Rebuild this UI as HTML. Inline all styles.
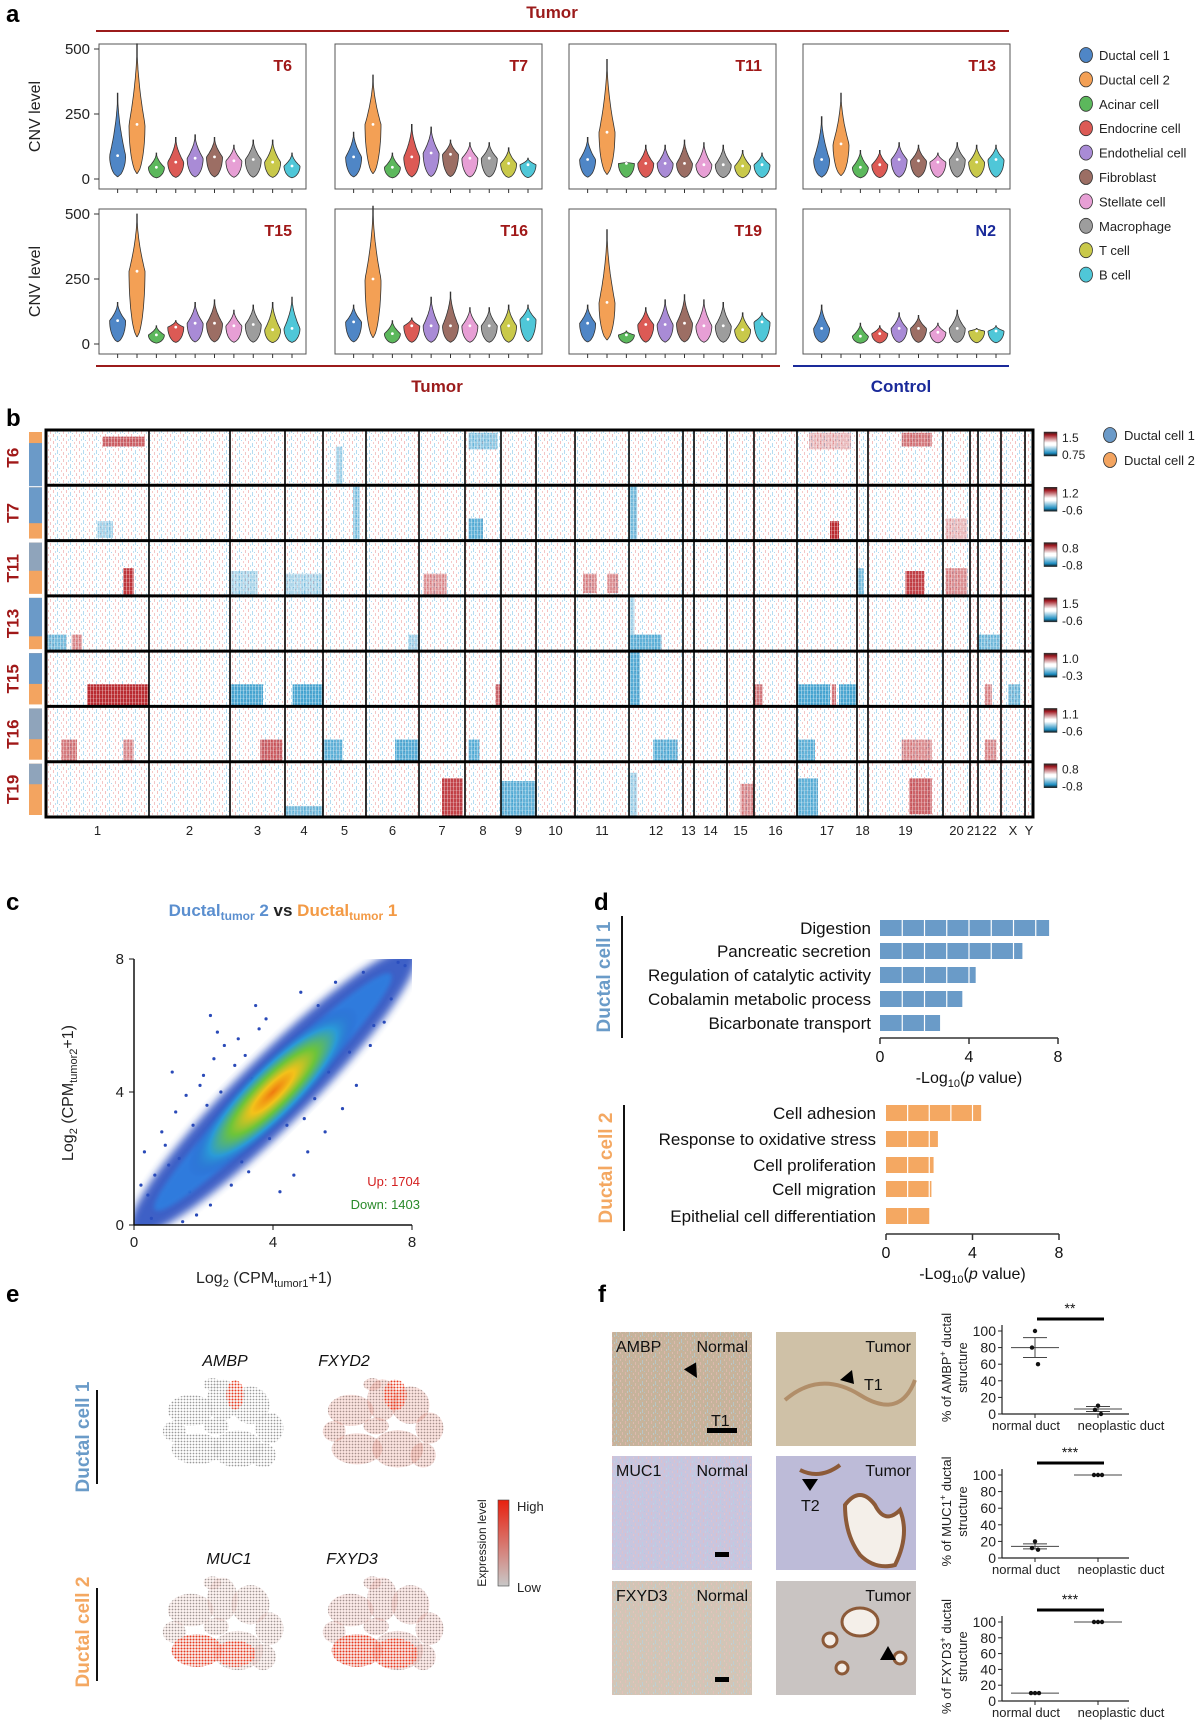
<!DOCTYPE html>
<html><head><meta charset="utf-8"><style>
html,body{margin:0;padding:0;background:#fff;}
svg{display:block;font-family:"Liberation Sans",Arial,sans-serif;}
</style></head><body>
<svg id="fig" width="1200" height="1725" viewBox="0 0 1200 1725" xmlns="http://www.w3.org/2000/svg">
<defs>
<pattern id="noise" width="13" height="7" patternUnits="userSpaceOnUse">
<rect x="1" y="0" width="1" height="3" fill="#f3b6b6"/><rect x="5" y="2" width="1" height="4" fill="#a8d6ee"/><rect x="9" y="1" width="1" height="2" fill="#f5c2c2"/><rect x="3" y="5" width="1" height="2" fill="#b5dcf0"/><rect x="11" y="4" width="1" height="3" fill="#f1bcbc"/><rect x="7" y="6" width="1" height="1" fill="#9fd0ec"/>
</pattern>
<pattern id="stripe" width="3" height="4" patternUnits="userSpaceOnUse"><rect width="1" height="4" fill="#fff" opacity="0.35"/><rect y="2" width="3" height="1" fill="#fff" opacity="0.2"/></pattern>
<pattern id="dots" width="3" height="3" patternUnits="userSpaceOnUse"><circle cx="1.5" cy="1.5" r="0.9" fill="#9a9a9a"/></pattern>
<pattern id="rdots" width="3" height="3" patternUnits="userSpaceOnUse"><circle cx="1.5" cy="1.5" r="1" fill="#e8391f"/></pattern>
<linearGradient id="cbg" x1="0" y1="0" x2="0" y2="1"><stop offset="0" stop-color="#222"/><stop offset="0.12" stop-color="#a01820"/><stop offset="0.45" stop-color="#fff"/><stop offset="0.55" stop-color="#fff"/><stop offset="0.88" stop-color="#1b8cc0"/><stop offset="1" stop-color="#111"/></linearGradient>
<linearGradient id="expg" x1="0" y1="0" x2="0" y2="1"><stop offset="0" stop-color="#e8200f"/><stop offset="1" stop-color="#c8c8c8"/></linearGradient>
<radialGradient id="dens" cx="0.5" cy="0.5" r="0.5"><stop offset="0" stop-color="#f07a10"/><stop offset="0.25" stop-color="#f3c21a"/><stop offset="0.5" stop-color="#6cc43a"/><stop offset="0.75" stop-color="#2a9ad8"/><stop offset="1" stop-color="#2a5ac8" stop-opacity="0"/></radialGradient>
<filter id="blur2"><feGaussianBlur stdDeviation="2"/></filter>
<filter id="blur4"><feGaussianBlur stdDeviation="4"/></filter>
</defs>
<g id="root"></g>
</svg>
<script>
// ===== Panel a data =====
const cellTypes=['Ductal cell 1','Ductal cell 2','Acinar cell','Endocrine cell','Endothelial cell','Fibroblast','Stellate cell','Macrophage','T cell','B cell'];
const cellColors=['#4f86c6','#f3a055','#5cb85c','#dc5a55','#a98bd6','#9c6e64','#e79fd5','#9d9d9d','#c9c94a','#4fc7d8'];
const samples=['T6','T7','T11','T13','T15','T16','T19','N2'];
const medT6=[90,210,45,65,80,85,70,75,65,50], hiT6=[330,520,100,160,170,160,130,150,150,100];
const medT7=[85,210,45,85,100,95,80,80,60,55], hiT7=[180,400,100,210,200,150,140,140,120,80];
const medT11=[75,180,60,60,60,60,55,55,50,55], hiT11=[160,460,65,130,130,150,140,130,110,100];
const medT13=[75,135,45,55,75,70,65,75,65,75], hiT13=[240,330,110,110,140,130,100,140,130,130];
const medT15=[90,280,35,65,80,80,70,75,55,60], hiT15=[160,500,70,90,160,170,130,150,160,180];
const medT16=[85,250,40,70,70,70,70,70,70,95], hiT16=[150,530,90,100,180,200,140,140,150,150];
const medT19=[80,160,35,75,75,80,70,70,55,85], hiT19=[150,440,50,140,170,190,170,160,120,120];
const medN2=[60,null,30,40,60,60,45,60,50,50], hiN2=[150,null,80,70,120,110,80,130,60,70];
const meds=[medT6,medT7,medT11,medT13,medT15,medT16,medT19,medN2];
const his=[hiT6,hiT7,hiT11,hiT13,hiT15,hiT16,hiT19,hiN2];
const cnvTicks=[0,250,500];
// ===== Panel b data =====
const chroms=['1','2','3','4','5','6','7','8','9','10','11','12','13','14','15','16','17','18','19','20','21','22','X','Y'];
const chromWeight=[103,81,55,38,43,53,46,36,35,39,54,54,11,33,27,43,60,11,75,27,8,23,24,8];
const hmSamples=['T6','T7','T11','T13','T15','T16','T19'];
const cbTop=['1.5','1.2','0.8','1.5','1.0','1.1','0.8'];
const cbBot=['0.75','-0.6','-0.8','-0.6','-0.3','-0.6','-0.8'];
const ductal2Start=[0.0,0.7,0.55,0.75,0.6,0.6,0.4];
// hotspots: [row, chrom, x0, x1, y0, y1, value]
const hotspots=[
[0,0,.55,.96,.12,.3,.7],[0,18,.45,.85,.05,.3,.6],[0,7,.1,.9,.05,.35,-.5],[0,16,.2,.9,.05,.35,.3],[0,4,.3,.45,.3,1,-.4],
[1,16,.55,.7,.65,1,.95],[1,7,.1,.5,.6,1,-.7],[1,11,0,.15,0,1,-.6],[1,4,.7,.85,0,1,-.5],[1,0,.5,.65,.65,.95,-.4],[1,19,.1,.9,.6,1,.3],
[2,0,.75,.85,.5,1,.9],[2,18,.5,.75,.55,1,.85],[2,10,.15,.4,.6,.95,.5],[2,10,.6,.8,.6,.95,.5],[2,19,.1,.9,.5,1,.5],[2,17,0,.6,.5,1,-.6],[2,6,.1,.6,.6,1,.45],[2,2,0,.5,.55,1,-.35],[2,3,0,1,.6,1,-.35],
[3,0,0,.2,.7,.98,-.6],[3,0,.25,.35,.7,.98,.5],[3,11,0,.6,.7,.98,-.7],[3,21,0,1,.7,.98,-.6],[3,11,0,.1,0,.7,-.4],[3,5,.8,1,.7,.98,-.4],
[4,0,.4,1,.6,.98,.95],[4,2,0,.6,.6,.98,-.8],[4,3,.2,1,.6,.98,-.8],[4,7,.85,1,.6,.98,.7],[4,11,0,.2,0,.98,-.75],[4,15,0,.2,.6,.98,.6],[4,16,0,.55,.6,.98,-.8],[4,16,.7,1,.6,.98,-.8],[4,16,.58,.65,.6,.98,.6],[4,21,.3,.6,.6,.98,.5],[4,22,.3,.8,.6,.98,-.6],
[5,0,.15,.3,.6,.98,.6],[5,0,.75,.85,.6,.98,.5],[5,2,.55,.95,.6,.98,.7],[5,4,0,.45,.6,.98,-.7],[5,5,.55,1,.6,.98,-.75],[5,7,.1,.4,.6,.98,-.7],[5,11,.45,.9,.6,.98,-.7],[5,16,0,.3,.6,.98,-.7],[5,18,.45,.85,.6,.98,.5],[5,21,.3,.8,.6,.98,.5],
[6,6,.5,.95,.3,.98,.85],[6,8,0,1,.35,.98,-.7],[6,16,0,.35,.3,.98,-.7],[6,18,.55,.85,.3,.95,.7],[6,3,0,1,.8,.98,-.6],[6,14,.5,1,.4,.98,.5],[6,11,0,.15,.2,.98,-.4]
];
// ===== Panel c data =====
const scatTicks=[0,4,8];
const outX=[0.3,0.8,1.2,1.5,2.0,2.3,2.6,3.0,1.0,1.8,2.2,2.8,3.3,0.5,1.4,5.5,6.0,6.4,5.0,4.6,4.2,3.8,6.8,7.2,5.8,6.6,3.5,4.8,2.4,1.1,7.6,7.8,0.6,0.9,1.3,1.7,2.1,2.5,2.9,3.2,3.6,1.6,2.7,3.9,4.4,5.2,5.6,6.2,0.4,0.2,1.9,3.1,4.9,5.3,6.9,7.4,2.2,3.4];
const outY=[2.2,2.8,3.4,3.9,4.5,5.0,5.4,5.6,1.8,0.3,0.6,1.2,1.6,0.2,0.1,2.8,3.5,4.2,2.2,1.5,1.0,6.2,5.4,6.1,7.3,7.6,6.6,7.0,5.8,4.6,7.9,7.8,1.5,2.4,2.0,3.0,3.6,4.0,4.8,5.1,5.9,1.0,2.0,2.6,3.0,3.8,4.6,5.2,0.9,1.2,4.2,1.9,3.2,6.6,6.0,6.8,6.3,4.4];
const upCount=1704, downCount=1403;
// ===== Panel d data =====
const terms1=['Digestion','Pancreatic secretion','Regulation of catalytic activity','Cobalamin metabolic process','Bicarbonate transport'];
const vals1=[7.6,6.4,4.3,3.7,2.7];
const terms2=['Cell adhesion','Response to oxidative stress','Cell proliferation','Cell migration','Epithelial cell differentiation'];
const vals2=[4.4,2.4,2.2,2.1,2.0];
const barTicks=[0,4,8];
// ===== Panel f data =====
const fGenes=['AMBP','MUC1','FXYD3'];
const normVals=[[100,80,60],[20,12,10],[10,10,10]];
const neoVals=[[10,5,0],[100,100,100],[100,100,100]];
const normMean=[80,14,10], normErr=[12,3,0];
const neoMean=[6,100,100], neoErr=[3,0,0];
const sigStars=['**','***','***'];
const fTicks=[0,20,40,60,80,100];

const NS='http://www.w3.org/2000/svg';
const root=document.getElementById('root');
function mk(tag,attrs,parent){const e=document.createElementNS(NS,tag);for(const k in attrs)e.setAttribute(k,attrs[k]);(parent||root).appendChild(e);return e;}
function txt(s,x,y,size,attrs,parent){const a=Object.assign({x:x,y:y,'font-size':size},attrs||{});const t=mk('text',a,parent);t.textContent=s;return t;}
function plabel(s,x,y){const t=txt(s,x,y,24,{'font-weight':'bold'});}

// ================= PANEL A =================
plabel('a',6,22);
{
const g=mk('g',{});


let t=txt('Tumor',552,18,17,{'text-anchor':'middle','font-weight':'bold',fill:'#9b1b1b'},g);

mk('line',{x1:96,y1:31,x2:1009,y2:31,stroke:'#9b1b1b','stroke-width':2},g);
const boxX=[99,335,569,803], boxW=207;
const rowTop=[44,209], rowH=145, rowBase=[179,344], row500=[49,214];
for(let s=0;s<8;s++){
  const r=Math.floor(s/4), c=s%4;
  const bx=boxX[c], by=rowTop[r];
  const pg=mk('g',{},g);
  
  
  mk('rect',{x:bx,y:by,width:boxW,height:rowH,fill:'none',stroke:'#555','stroke-width':1},pg);
  const yv=v=>rowBase[r]-v*(rowBase[r]-row500[r])/500;
  if(c===0){
    cnvTicks.forEach(v=>{mk('line',{x1:bx-5,x2:bx,y1:yv(v),y2:yv(v),stroke:'#333'},pg);
      txt(String(v),bx-9,yv(v)+5,15,{'text-anchor':'end',fill:'#222'},pg);});
    const yl=txt('CNV level',40,(rowTop[r]+rowH/2),16,{'text-anchor':'middle',transform:'rotate(-90 40 '+(rowTop[r]+rowH/2)+')',fill:'#222'},pg);
    
  }
  const lab=txt(samples[s],bx+boxW-14,by+27,16,{'text-anchor':'end','font-weight':'bold',fill:s===7?'#1a2a9a':'#a01818'},pg);
  
  for(let i=0;i<10;i++){
    const cx=bx+boxW*(0.09+i*0.0936);
    mk('line',{x1:cx,x2:cx,y1:by+rowH,y2:by+rowH+4,stroke:'#333'},pg);
    const med=meds[s][i], hi=his[s][i];
    if(med===null) continue;
    const lo=Math.max(0,med*0.1);
    const W=8;
    let left=[],right=[];
    const N=30;
    for(let k=0;k<=N;k++){
      const v=lo+(hi-lo)*k/N;
      let f;
      if(v<med){const u=(med-v)/(med-lo+1e-6);f=Math.pow(Math.max(0,1-u*u),0.6);}
      else{const u=(v-med)/(hi-med+1e-6);f=Math.pow(1-u,1.8);}
      const w=W*Math.max(f,0.04);
      left.push([cx-w,yv(v)]);right.push([cx+w,yv(v)]);
    }
    const pts=left.concat(right.reverse());
    const p=mk('path',{d:'M'+pts.map(q=>q[0].toFixed(1)+','+q[1].toFixed(1)).join('L')+'Z',fill:cellColors[i],stroke:'#333','stroke-width':0.8},pg);
    
    
    mk('circle',{cx:cx,cy:yv(med),r:1.4,fill:'#fff'},pg);
  }
}
for(let i=0;i<10;i++){
  const ly=55+24.4*i;
  const le=mk('g',{},g);
  
  
  mk('ellipse',{cx:1086,cy:ly,rx:6.5,ry:7.5,fill:cellColors[i],stroke:'#333','stroke-width':0.8},le);
  txt(cellTypes[i],1099,ly+5,13,{fill:'#222'},le);
}
mk('line',{x1:96,y1:366,x2:780,y2:366,stroke:'#9b1b1b','stroke-width':2},g);
mk('line',{x1:793,y1:366,x2:1009,y2:366,stroke:'#1a2a9a','stroke-width':2},g);
t=txt('Tumor',437,392,17,{'text-anchor':'middle','font-weight':'bold',fill:'#9b1b1b'},g);

t=txt('Control',901,392,17,{'text-anchor':'middle','font-weight':'bold',fill:'#1a2a9a'},g);

}

// ================= PANEL B =================
plabel('b',6,426);
{
const g=mk('g',{});


const X0=46,X1=1033,Y0=430,Y1=817;
const totW=chromWeight.reduce((a,b)=>a+b,0);
const cx=[X0];chromWeight.forEach(w=>cx.push(cx[cx.length-1]+w/totW*(X1-X0)));
const rh=(Y1-Y0)/hmSamples.length;
mk('rect',{x:X0,y:Y0,width:X1-X0,height:Y1-Y0,fill:'#fff'},g);
mk('rect',{x:X0,y:Y0,width:X1-X0,height:Y1-Y0,fill:'url(#noise)',opacity:0.85},g);
hotspots.forEach(h=>{
  const [r,c,x0,x1,y0,y1,v]=h;
  const xa=cx[c]+x0*(cx[c+1]-cx[c]), xb=cx[c]+x1*(cx[c+1]-cx[c]);
  const ya=Y0+r*rh+y0*rh, yb=Y0+r*rh+y1*rh;
  const col=v>0?'#b3151c':'#148bc4';
  const cell=mk('rect',{x:xa,y:ya,width:Math.max(1,xb-xa),height:yb-ya,fill:col,opacity:Math.min(1,Math.abs(v)*0.95)},g);
  
  
  mk('rect',{x:xa,y:ya,width:Math.max(1,xb-xa),height:yb-ya,fill:'url(#stripe)'},g);
});
for(let i=1;i<cx.length-1;i++) mk('line',{x1:cx[i],x2:cx[i],y1:Y0,y2:Y1,stroke:'#000','stroke-width':1.6},g);
for(let r=0;r<=hmSamples.length;r++) mk('line',{x1:X0-1,x2:X1+1,y1:Y0+r*rh,y2:Y0+r*rh,stroke:'#000','stroke-width':3},g);
mk('rect',{x:X0,y:Y0,width:X1-X0,height:Y1-Y0,fill:'none',stroke:'#000','stroke-width':3},g);
chroms.forEach((c,i)=>{const t=txt(c,(cx[i]+cx[i+1])/2,835,13,{'text-anchor':'middle',fill:'#222'},g);
  });
hmSamples.forEach((s,r)=>{
  const ty=Y0+r*rh;
  const sp=ductal2Start[r];
  mk('rect',{x:29,y:ty+2,width:13,height:rh-4,fill:'#f3a460'},g);
  if(r===0){mk('rect',{x:29,y:ty+2+rh*0.2,width:13,height:rh*0.78,fill:'#6b9ac8'},g);}
  else mk('rect',{x:29,y:ty+2,width:13,height:(rh-4)*sp,fill:(r===2||r===5||r===6)?'#8fa4bb':'#6b9ac8'},g);
  const lb=txt(s,14,ty+rh/2,17,{'text-anchor':'middle','font-weight':'bold',fill:'#a01818',transform:'rotate(-90 14 '+(ty+rh/2)+')','dominant-baseline':'middle'},g);
  
  const cb=mk('rect',{x:1044,y:ty+2,width:13,height:24,fill:'url(#cbg)',stroke:'#333','stroke-width':0.5},g);
  
  txt(cbTop[r],1062,ty+12,12,{fill:'#222'},g);
  txt(cbBot[r],1062,ty+29,12,{fill:'#222'},g);
});
const l1=mk('g',{},g);
mk('ellipse',{cx:1110,cy:435,rx:6.5,ry:7.5,fill:'#6b9ac8',stroke:'#333','stroke-width':0.8},l1);
txt('Ductal cell 1',1124,440,13,{fill:'#222'},l1);
const l2=mk('g',{},g);
mk('ellipse',{cx:1110,cy:460,rx:6.5,ry:7.5,fill:'#f3a460',stroke:'#333','stroke-width':0.8},l2);
txt('Ductal cell 2',1124,465,13,{fill:'#222'},l2);
}

// ================= PANEL C =================
plabel('c',6,910);
{
const g=mk('g',{});


const AX0=134,AX1=412,AY0=1225,AY1=959;
const sx=v=>AX0+v/8*(AX1-AX0), sy=v=>AY0-v/8*(AY0-AY1);
const title=mk('text',{x:283,y:916,'font-size':17,'font-weight':'bold','text-anchor':'middle'},g);

title.innerHTML='<tspan fill="#5b8fcf">Ductal</tspan><tspan fill="#5b8fcf" font-size="12" dy="4">tumor</tspan><tspan fill="#5b8fcf" dy="-4"> 2</tspan><tspan fill="#222"> vs </tspan><tspan fill="#f39a45">Ductal</tspan><tspan fill="#f39a45" font-size="12" dy="4">tumor</tspan><tspan fill="#f39a45" dy="-4"> 1</tspan>';
const cl=mk('clipPath',{id:'cclip'},g);mk('rect',{x:AX0,y:AY1,width:AX1-AX0,height:AY0-AY1},cl);
const cg=mk('g',{'clip-path':'url(#cclip)'},g);
const ang=-45;
const c4x=sx(4),c4y=sy(4);
outX.forEach((x,i)=>{const p=mk('circle',{cx:sx(x),cy:sy(outY[i]),r:1.6,fill:'#2a4ab8'},cg);
  });
const band=mk('ellipse',{cx:c4x,cy:c4y,rx:(sx(8)-sx(0))*0.72,ry:(sx(1.0)-sx(0)),fill:'#2a50c0',opacity:0.9,transform:'rotate('+ang+' '+c4x+' '+c4y+')',filter:'url(#blur4)'},cg);

mk('ellipse',{cx:c4x,cy:c4y,rx:(sx(8)-sx(0))*0.6,ry:(sx(0.6)-sx(0)),fill:'#2f7fe0',opacity:0.9,transform:'rotate('+ang+' '+c4x+' '+c4y+')',filter:'url(#blur2)'},cg);
mk('ellipse',{cx:c4x,cy:c4y,rx:(sx(8)-sx(0))*0.42,ry:(sx(0.85)-sx(0)),fill:'url(#dens)',transform:'rotate('+ang+' '+c4x+' '+c4y+')'},cg);
mk('line',{x1:AX0,y1:AY0,x2:AX1,y2:AY0,stroke:'#111','stroke-width':1.5},g);
mk('line',{x1:AX0,y1:AY0,x2:AX0,y2:AY1,stroke:'#111','stroke-width':1.5},g);
scatTicks.forEach(v=>{
  mk('line',{x1:sx(v),x2:sx(v),y1:AY0,y2:AY0+5,stroke:'#111'},g);
  txt(String(v),sx(v),AY0+22,15,{'text-anchor':'middle',fill:'#222'},g);
  mk('line',{x1:AX0-5,x2:AX0,y1:sy(v),y2:sy(v),stroke:'#111'},g);
  txt(String(v),AX0-10,sy(v)+5,15,{'text-anchor':'end',fill:'#222'},g);
});
const xt=mk('text',{x:264,y:1283,'font-size':16,'text-anchor':'middle',fill:'#222'},g);

xt.innerHTML='Log<tspan font-size="11" dy="4">2</tspan><tspan dy="-4"> (CPM</tspan><tspan font-size="11" dy="4">tumor1</tspan><tspan dy="-4">+1)</tspan>';
const yt=mk('text',{x:73,y:1093,'font-size':16,'text-anchor':'middle',fill:'#222',transform:'rotate(-90 73 1093)'},g);

yt.innerHTML='Log<tspan font-size="11" dy="4">2</tspan><tspan dy="-4"> (CPM</tspan><tspan font-size="11" dy="4">tumor2</tspan><tspan dy="-4">+1)</tspan>';
let t=txt('Up:  '+upCount,420,1186,13,{'text-anchor':'end',fill:'#d42020'},g);

t=txt('Down: '+downCount,420,1209,13,{'text-anchor':'end',fill:'#2a8a2a'},g);

}

// ================= PANEL D =================
plabel('d',594,910);
{
const g=mk('g',{});


function group(terms,vals,x0,x8,yCenters,axisY,col,labelRight,sideName,sideX,lineY0,lineY1,name){
  const gg=mk('g',{},g);
  
  
  const sc=v=>x0+v/8*(x8-x0);
  terms.forEach((tm,i)=>{
    const yc=yCenters[i];
    const lt=txt(tm,labelRight,yc+6,17,{'text-anchor':'end',fill:'#111'},gg);
    
    const b=mk('rect',{x:x0,y:yc-8,width:sc(vals[i])-x0,height:16,fill:col},gg);
    
    for(let u=1;u<vals[i];u++) mk('line',{x1:sc(u),x2:sc(u),y1:yc-8,y2:yc+8,stroke:'#fff','stroke-width':1.2},gg);
  });
  mk('line',{x1:x0,x2:x8,y1:axisY,y2:axisY,stroke:'#333','stroke-width':1.5},gg);
  barTicks.forEach(v=>{mk('line',{x1:sc(v),x2:sc(v),y1:axisY,y2:axisY+6,stroke:'#333','stroke-width':1.5},gg);
    txt(String(v),sc(v),axisY+24,16,{'text-anchor':'middle',fill:'#111'},gg);});
  const at=mk('text',{x:(x0+x8)/2,y:axisY+45,'font-size':16,'text-anchor':'middle',fill:'#111'},gg);
  
  at.innerHTML='-Log<tspan font-size="11" dy="4">10</tspan><tspan dy="-4">(</tspan><tspan font-style="italic">p</tspan> value)';
  mk('line',{x1:sideX+17,x2:sideX+17,y1:lineY0,y2:lineY1,stroke:'#111','stroke-width':2},gg);
  const cy=(lineY0+lineY1)/2;
  const sl=txt(sideName,sideX,cy,19,{'text-anchor':'middle','font-weight':'bold',fill:col,transform:'rotate(-90 '+sideX+' '+cy+')','dominant-baseline':'middle'},gg);
  
}
group(terms1,vals1,880,1058,[928,951,975,999,1023],1038,'#6a9bc8',871,'Ductal cell 1',605,916,1038,'go-group-ductal-1');
group(terms2,vals2,886,1059,[1113,1139,1165,1189,1216],1234,'#f4a862',876,'Ductal cell 2',607,1105,1231,'go-group-ductal-2');
}

// ================= PANEL E =================
plabel('e',6,1302);
{
const g=mk('g',{});


const clusters=[[.25,.35,.18,.15],[.5,.25,.12,.2],[.72,.3,.15,.18],[.87,.52,.11,.15],[.3,.72,.2,.15],[.62,.72,.2,.18],[.12,.55,.09,.1],[.45,.5,.1,.08],[.82,.78,.1,.12],[.42,.1,.07,.06]];
const tsne=[
 {gene:'AMBP',x:159,y:1374,w:127,h:104,lx:225,ly:1366,red:[[.6,.2,.07,.14]],faint:0},
 {gene:'FXYD2',x:319,y:1374,w:127,h:104,lx:344,ly:1366,red:[[.6,.2,.09,.15]],faint:0.35},
 {gene:'MUC1',x:159,y:1572,w:127,h:109,lx:229,ly:1564,red:[[.3,.72,.2,.15],[.6,.75,.16,.12]],faint:0.15},
 {gene:'FXYD3',x:319,y:1572,w:127,h:109,lx:352,ly:1564,red:[[.3,.72,.2,.15],[.6,.75,.18,.14]],faint:0.25}];
tsne.forEach(T=>{
  const tg=mk('g',{},g);
  
  
  const lt=txt(T.gene,T.lx,T.ly,16,{'text-anchor':'middle','font-style':'italic',fill:'#111'},tg);
  
  clusters.forEach(c=>mk('ellipse',{cx:T.x+c[0]*T.w,cy:T.y+c[1]*T.h,rx:c[2]*T.w,ry:c[3]*T.h,fill:'url(#dots)'},tg));
  if(T.faint) clusters.forEach(c=>mk('ellipse',{cx:T.x+c[0]*T.w,cy:T.y+c[1]*T.h,rx:c[2]*T.w,ry:c[3]*T.h,fill:'#ec6a55',opacity:T.faint*0.5},tg));
  T.red.forEach(c=>mk('ellipse',{cx:T.x+c[0]*T.w,cy:T.y+c[1]*T.h,rx:c[2]*T.w,ry:c[3]*T.h,fill:'url(#rdots)'},tg));
});
mk('line',{x1:97,x2:97,y1:1390,y2:1484,stroke:'#111','stroke-width':2},g);
let t=txt('Ductal cell 1',84,1437,19,{'text-anchor':'middle','font-weight':'bold',fill:'#6a9bc8',transform:'rotate(-90 84 1437)','dominant-baseline':'middle'},g);

mk('line',{x1:97,x2:97,y1:1588,y2:1681,stroke:'#111','stroke-width':2},g);
t=txt('Ductal cell 2',84,1632,19,{'text-anchor':'middle','font-weight':'bold',fill:'#f4a862',transform:'rotate(-90 84 1632)','dominant-baseline':'middle'},g);

const cb=mk('rect',{x:498,y:1500,width:11,height:86,fill:'url(#expg)',stroke:'#444','stroke-width':0.6},g);

txt('High',517,1511,13,{fill:'#222'},g);
txt('Low',517,1592,13,{fill:'#222'},g);
t=txt('Expression level',486,1543,12,{'text-anchor':'middle',fill:'#222',transform:'rotate(-90 486 1543)'},g);

}

// ================= PANEL F =================
plabel('f',598,1302);
{
const g=mk('g',{});


const rowsY=[1332,1456,1581], ih=114;
const normFill=['#c6b39b','#c9c5de','#d2c5b6'];
const tumFill=['#cfc1a7','#bdbbd8','#c9c4c2'];
fGenes.forEach((gn,r)=>{
  const y=rowsY[r];
  const n=mk('rect',{x:612,y:y,width:140,height:ih,fill:normFill[r]},g);
  
  mk('rect',{x:612,y:y,width:140,height:ih,fill:'url(#noise)',opacity:0.5},g);
  const tu=mk('rect',{x:776,y:y,width:140,height:ih,fill:tumFill[r]},g);
  
  txt(gn,616,y+20,16,{fill:'#111'},g);
  txt('Normal',748,y+20,16,{'text-anchor':'end',fill:'#111'},g);
  txt('Tumor',911,y+20,16,{'text-anchor':'end',fill:'#111'},g);
  const sbw=r===0?30:14;
  mk('rect',{x:714-sbw/2+8,y:y+ih-18,width:sbw,height:5,fill:'#000'},g);
});
mk('path',{d:'M785,1400 Q820,1370 860,1395 T915,1380',fill:'none',stroke:'#a4784e','stroke-width':4,opacity:0.7},g);
mk('path',{d:'M845,1505 q15,-20 30,0 q10,20 25,5 q10,25 -5,55 q-20,5 -35,-10 q-15,-20 -15,-50z',fill:'#f4efe9',stroke:'#8c5a38','stroke-width':4},g);
mk('path',{d:'M800,1470 q20,10 40,-5',fill:'none',stroke:'#8c5a38','stroke-width':4},g);
mk('ellipse',{cx:860,cy:1622,rx:18,ry:14,fill:'#f4efe9',stroke:'#8c5a38','stroke-width':3},g);
mk('circle',{cx:830,cy:1640,r:7,fill:'#f4efe9',stroke:'#8c5a38','stroke-width':3},g);
mk('circle',{cx:842,cy:1668,r:6,fill:'#f4efe9',stroke:'#8c5a38','stroke-width':3},g);
mk('circle',{cx:900,cy:1658,r:6,fill:'#f4efe9',stroke:'#8c5a38','stroke-width':3},g);
mk('path',{d:'M697,1378 l-7,-14 l14,0z',fill:'#000',transform:'rotate(-30 697 1378)'},g);
txt('T1',711,1426,16,{fill:'#111'},g);
mk('path',{d:'M840,1380 l12,-10 l2,14z',fill:'#000'},g);
txt('T1',864,1390,16,{fill:'#111'},g);
mk('path',{d:'M810,1491 l-8,-12 l16,0z',fill:'#000'},g);
txt('T2',801,1511,16,{fill:'#111'},g);
mk('path',{d:'M880,1660 l8,-14 l8,14z',fill:'#000'},g);
const plotTop100=[1331,1475,1622], plotZero=[1414,1558,1701];
const axX=1002, xNorm=1035, xNeo=1098, axEnd=1129;
fGenes.forEach((gn,r)=>{
  const pg=mk('g',{},g);
  
  
  const yv=v=>plotZero[r]-v/100*(plotZero[r]-plotTop100[r]);
  mk('line',{x1:axX,x2:axX,y1:yv(100)-6,y2:yv(0),stroke:'#222','stroke-width':1.2},pg);
  mk('line',{x1:axX,x2:axEnd,y1:yv(0),y2:yv(0),stroke:'#222','stroke-width':1.2},pg);
  fTicks.forEach(v=>{mk('line',{x1:axX-4,x2:axX,y1:yv(v),y2:yv(v),stroke:'#222'},pg);
    txt(String(v),axX-6,yv(v)+5,14,{'text-anchor':'end',fill:'#222'},pg);});
  [xNorm,xNeo].forEach(x=>mk('line',{x1:x,x2:x,y1:yv(0),y2:yv(0)+4,stroke:'#222'},pg));
  txt('normal duct',1026,plotZero[r]+16,13,{'text-anchor':'middle',fill:'#222'},pg);
  txt('neoplastic duct',1121,plotZero[r]+16,13,{'text-anchor':'middle',fill:'#222'},pg);
  [[xNorm,normVals[r],normMean[r],normErr[r]],[xNeo,neoVals[r],neoMean[r],neoErr[r]]].forEach(([x,vals,m,e])=>{
    mk('line',{x1:x-24,x2:x+24,y1:yv(m),y2:yv(m),stroke:'#444','stroke-width':1},pg);
    if(e>0){mk('line',{x1:x,x2:x,y1:yv(m+e),y2:yv(m-e),stroke:'#444'},pg);
      mk('line',{x1:x-12,x2:x+12,y1:yv(m+e),y2:yv(m+e),stroke:'#444'},pg);
      mk('line',{x1:x-12,x2:x+12,y1:yv(m-e),y2:yv(m-e),stroke:'#444'},pg);}
    vals.forEach((v,k)=>{const off=(vals.every(q=>q===vals[0])?(k-1)*4:(k===1?-3:0)+(k===2?3:0));
      const d=mk('circle',{cx:x+off,cy:yv(v),r:2.2,fill:'#111'},pg);
      });
  });
  mk('line',{x1:1037,x2:1104,y1:yv(100)-12,y2:yv(100)-12,stroke:'#000','stroke-width':3},pg);
  txt(sigStars[r],1070,yv(100)-18,14,{'text-anchor':'middle',fill:'#111'},pg);
  const cy=(plotZero[r]+plotTop100[r])/2-5;
  const yl=mk('text',{x:951,y:cy,'font-size':13,'text-anchor':'middle',fill:'#222',transform:'rotate(-90 951 '+cy+')'},pg);
  
  yl.innerHTML='% of '+gn+'<tspan font-size="9" dy="-5">+</tspan><tspan dy="5"> ductal</tspan>';
  txt('structure',967,cy,13,{'text-anchor':'middle',fill:'#222',transform:'rotate(-90 967 '+cy+')'},pg);
});
}
</script>
</body></html>
